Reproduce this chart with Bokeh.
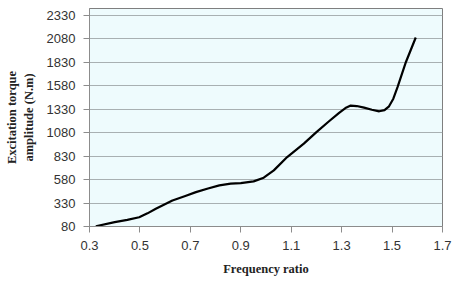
from bokeh.plotting import figure
from bokeh.models import Range1d, FixedTicker
from bokeh.embed import file_html
from bokeh.resources import INLINE

freq_ratio = [0.325, 0.40, 0.45, 0.497, 0.53, 0.563, 0.629, 0.68, 0.722, 0.77, 0.815,
              0.86, 0.90, 0.951, 0.991, 1.031, 1.084, 1.15, 1.20, 1.25, 1.29, 1.315,
              1.336, 1.36, 1.389, 1.42, 1.449, 1.47, 1.488, 1.505, 1.522, 1.555, 1.594]
torque = [83, 126, 150, 179, 220, 269, 357, 405, 446, 485, 517,
          536, 542, 560, 599, 677, 819, 962, 1085, 1200, 1290, 1340,
          1367, 1362, 1345, 1322, 1306, 1318, 1359, 1440, 1565, 1831, 2091]
x_ticks = [0.3, 0.5, 0.7, 0.9, 1.1, 1.3, 1.5, 1.7]
y_ticks = [80, 330, 580, 830, 1080, 1330, 1580, 1830, 2080, 2330]

p = figure(width=474, height=284, output_backend="svg", toolbar_location=None,
           x_range=Range1d(0.3, 1.7), y_range=Range1d(80, 2400),
           min_border_left=89, min_border_right=32, min_border_top=8, min_border_bottom=58)
p.background_fill_color = "#eefbfd"
p.border_fill_color = "white"
p.outline_line_color = "#7f7f7f"
p.outline_line_width = 1

p.line(freq_ratio, torque, line_color="black", line_width=2.2, line_join="round")

p.xaxis.ticker = FixedTicker(ticks=x_ticks)
p.yaxis.ticker = FixedTicker(ticks=y_ticks)
p.xaxis.major_label_overrides = {t: f"{t:.1f}" for t in x_ticks}
p.xgrid.grid_line_color = None
p.ygrid.grid_line_color = "#a8b0b2"
p.ygrid.grid_line_width = 1
for ax in (p.xaxis, p.yaxis):
    ax.axis_line_color = "#8c8c8c"
    ax.major_tick_line_color = "#8c8c8c"
    ax.minor_tick_line_color = None
    ax.major_tick_in = 0
    ax.major_tick_out = 6
    ax.major_label_text_font = "Liberation Sans"
    ax.major_label_text_font_size = "13px"
    ax.major_label_text_color = "#333333"
    ax.axis_label_text_font = "Liberation Serif"
    ax.axis_label_text_font_style = "bold"
    ax.axis_label_text_font_size = "12.5px"
    ax.axis_label_text_color = "#222222"
p.xaxis.major_label_standoff = 8
p.yaxis.major_label_standoff = 8
p.xaxis.axis_label = "Frequency ratio"
p.yaxis.axis_label = "Excitation torque\namplitude (N.m)"
p.xaxis.axis_label_standoff = 9
p.yaxis.axis_label_standoff = 8

open("out.html", "w").write(file_html(p, INLINE))
